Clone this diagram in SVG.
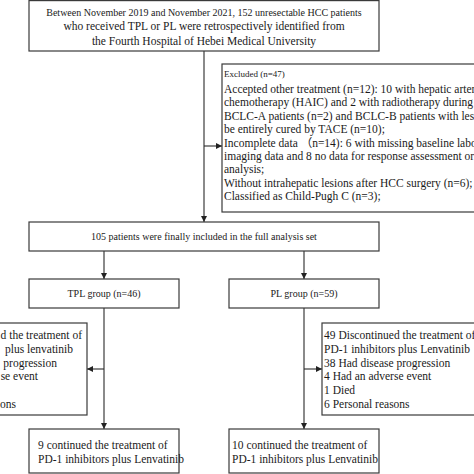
<svg xmlns="http://www.w3.org/2000/svg" width="474" height="474" viewBox="0 0 474 474">
<defs>
<marker id="ah" viewBox="0 0 10 10" refX="10" refY="5" markerWidth="6" markerHeight="6" markerUnits="userSpaceOnUse" orient="auto">
<path d="M0,0 L10,5 L0,10 z" fill="#222"/>
</marker>
<style>
.box{fill:#fff;stroke:#3a3a3a;stroke-width:1.2}
.t{font-family:"Liberation Serif","Times New Roman","Noto Sans CJK SC",serif;fill:#1a1a1a}
.c{text-anchor:middle}
.e{text-anchor:end}
.s10{font-size:10px}
.s11{font-size:11.5px}
.s9{font-size:9px}
.ln{fill:none;stroke:#2a2a2a;stroke-width:1.1}
</style>
</defs>
<rect width="474" height="474" fill="#fff"/>
<g id="connectors">
<line class="ln" x1="204" y1="51" x2="204" y2="222" marker-end="url(#ah)"/>
<line class="ln" x1="204" y1="146" x2="222" y2="146" marker-end="url(#ah)"/>
<line class="ln" x1="104" y1="251" x2="104" y2="279" marker-end="url(#ah)"/>
<line class="ln" x1="304" y1="251" x2="304" y2="279" marker-end="url(#ah)"/>
<line class="ln" x1="104" y1="308" x2="104" y2="429" marker-end="url(#ah)"/>
<line class="ln" x1="104" y1="369" x2="87" y2="369" marker-end="url(#ah)"/>
<line class="ln" x1="304" y1="308" x2="304" y2="429" marker-end="url(#ah)"/>
<line class="ln" x1="304" y1="369" x2="322" y2="369" marker-end="url(#ah)"/>
</g>
<g id="top">
<rect class="box" x="29" y="0.6" width="350" height="50.4"/>
<text class="t c s10" x="204" y="16">Between November 2019 and November 2021, 152 unresectable HCC patients</text>
<text class="t c s11" x="204" y="30">who received TPL or PL were retrospectively identified from</text>
<text class="t c s11" x="204" y="44.5">the Fourth Hospital of Hebei Medical University</text>
</g>
<g id="excluded">
<rect class="box" x="222" y="64" width="260" height="148"/>
<text class="t s9" x="224" y="77">Excluded (n=47)</text>
<text class="t s11" x="224" y="93">Accepted other treatment (n=12): 10 with hepatic arter</text>
<text class="t s11" x="224" y="106.4">chemotherapy (HAIC) and 2 with radiotherapy during</text>
<text class="t s11" x="224" y="119.8">BCLC-A patients (n=2) and BCLC-B patients with les</text>
<text class="t s11" x="224" y="133.2">be entirely cured by TACE (n=10);</text>
<text class="t s11" x="224" y="146.6">Incomplete data （n=14): 6 with missing baseline labo</text>
<text class="t s11" x="224" y="160">imaging data and 8 no data for response assessment or</text>
<text class="t s11" x="224" y="173.4">analysis;</text>
<text class="t s11" x="224" y="186.8">Without intrahepatic lesions after HCC surgery (n=6);</text>
<text class="t s11" x="224" y="200.2">Classified as Child-Pugh C (n=3);</text>
</g>
<g id="analysis-set">
<rect class="box" x="29" y="222" width="350" height="29"/>
<text class="t c s10" x="204" y="240">105 patients were finally included in the full analysis set</text>
</g>
<g id="tpl">
<rect class="box" x="29" y="279" width="150" height="29"/>
<text class="t c s10" x="104" y="297">TPL group (n=46)</text>
</g>
<g id="pl">
<rect class="box" x="229" y="279" width="150" height="29"/>
<text class="t c s10" x="304" y="297">PL group (n=59)</text>
</g>
<g id="tpl-discontinued">
<rect class="box" x="-20" y="323" width="107" height="92"/>
<text class="t e s11" x="82" y="339">d the treatment of</text>
<text class="t e s11" x="73" y="352.8">plus lenvatinib</text>
<text class="t e s11" x="57" y="366.6">progression</text>
<text class="t e s11" x="38" y="380.4">se event</text>
<text class="t e s11" x="16" y="408">ons</text>
</g>
<g id="pl-discontinued">
<rect class="box" x="322" y="323" width="160" height="92"/>
<text class="t s11" x="324" y="339">49 Discontinued the treatment of</text>
<text class="t s11" x="324" y="352.8">PD-1 inhibitors plus Lenvatinib</text>
<text class="t s11" x="324" y="366.6">38 Had disease progression</text>
<text class="t s11" x="324" y="380.4">4 Had an adverse event</text>
<text class="t s11" x="324" y="394.2">1 Died</text>
<text class="t s11" x="324" y="408">6 Personal reasons</text>
</g>
<g id="tpl-continued">
<rect class="box" x="29" y="429" width="150" height="44"/>
<text class="t s11" x="38" y="449">9 continued the treatment of</text>
<text class="t s11" x="38" y="463">PD-1 inhibitors plus Lenvatinib</text>
</g>
<g id="pl-continued">
<rect class="box" x="229" y="429" width="150" height="44"/>
<text class="t s11" x="232" y="449">10 continued the treatment of</text>
<text class="t s11" x="232" y="463">PD-1 inhibitors plus Lenvatinib</text>
</g>
</svg>
